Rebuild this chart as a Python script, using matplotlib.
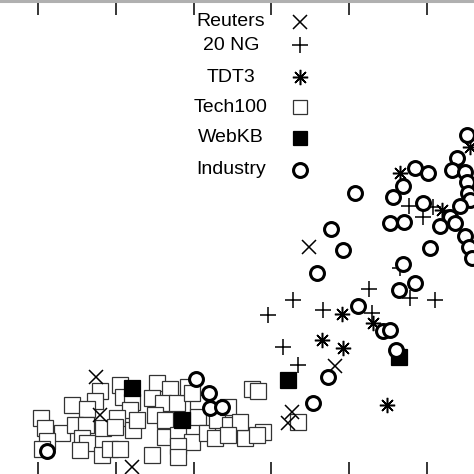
import numpy as np
import matplotlib.pyplot as plt

plt.rcParams['font.family'] = ['Liberation Sans', 'DejaVu Sans']

# ============================================================
# data (arbitrary units)
# ============================================================

reuters_x = [96, 100, 132, 309, 335, 292, 288]
reuters_y = [97, 59, 7, 227, 108, 62, 51]

ng20_x = [268, 293, 323, 283, 298, 369, 372, 410, 435, 409, 423, 433, 400]
ng20_y = [159, 174, 164, 127, 109, 185, 161, 176, 174, 268, 257, 267, 206]

tdt3_x = [400, 442, 470, 342, 373, 322, 343, 387]
tdt3_y = [301, 264, 327, 160, 151, 134, 126, 69]

tech100_x = [120, 100, 95, 72, 87, 123, 132, 130, 41, 45, 62, 75, 86, 103,
             117, 115, 133, 137, 47, 42, 82, 87, 80, 102, 110, 120, 152, 157,
             170, 152, 163, 177, 155, 165, 188, 198, 198, 192, 165, 178, 192,
             178, 178, 207, 217, 230, 245, 263, 257, 215, 228, 240, 252, 258,
             298, 228]
tech100_y = [89, 83, 73, 69, 65, 77, 72, 64, 56, 46, 41, 49, 49, 46,
             56, 47, 44, 54, 33, 25, 36, 31, 24, 19, 25, 25, 19, 91,
             85, 76, 71, 71, 59, 54, 87, 71, 57, 81, 37, 39, 32,
             28, 17, 41, 54, 49, 36, 42, 39, 36, 67, 52, 85, 83,
             52, 39]

webkb_x = [132, 182, 288, 399]
webkb_y = [86, 54, 94, 117]

industry_x = [47, 196, 209, 210, 222, 313, 328, 396, 383, 390, 358, 399, 415,
              403, 430, 317, 343, 331, 355, 390, 404, 393, 403, 415, 428, 423,
              467, 457, 452, 465, 467, 468, 470, 460, 450, 440, 455, 465, 469,
              472]
industry_y = [23, 95, 81, 66, 67, 71, 97, 124, 143, 144, 168, 184, 191,
              210, 226, 201, 224, 245, 281, 251, 252, 277, 288, 306, 301, 271,
              339, 316, 304, 302, 292, 281, 274, 268, 257, 248, 251, 238, 227,
              216]

xticks = [38, 116, 194, 271, 349, 427]

series = [
    ("Reuters", reuters_x, reuters_y,
     dict(marker="x", ms=10, mew=1.1, color="black", ls="none", zorder=3)),
    ("20 NG", ng20_x, ng20_y,
     dict(marker="+", ms=12, mew=1.1, color="black", ls="none", zorder=3)),
    ("TDT3", tdt3_x, tdt3_y,
     dict(marker=(8, 2, 0), ms=11, mew=1.1, color="black", ls="none", zorder=3)),
    ("Tech100", tech100_x, tech100_y,
     dict(marker="s", ms=11, mew=0.9, mfc="white", mec="#333333", ls="none", zorder=2)),
    ("WebKB", webkb_x, webkb_y,
     dict(marker="s", ms=11, mew=0.9, mfc="black", mec="black", ls="none", zorder=2.5)),
    ("Industry", industry_x, industry_y,
     dict(marker="o", ms=10, mew=2.2, mfc="white", mec="black", ls="none", zorder=4)),
]

# ============================================================
# figure
# ============================================================

fig = plt.figure(figsize=(4.74, 4.74), dpi=100)
ax = fig.add_axes([0.0, -2 / 474, 1.0, 475 / 474])

for name, xs, ys, style in series:
    ax.plot(xs, ys, **style)

ax.set_xlim(0, 474)
ax.set_ylim(-2, 473)

ax.set_xticks(xticks)
ax.set_yticks([])
ax.tick_params(axis="x", direction="in", top=True, bottom=True,
               length=10, width=1.1, labelbottom=False, labeltop=False)

for side in ["left", "right", "bottom"]:
    ax.spines[side].set_visible(False)
ax.spines["top"].set_color("#b0b0b0")
ax.spines["top"].set_linewidth(2.2)

# legend drawn by hand (gnuplot style, centred text + key)
legend_rows = [22, 45, 77, 107, 138, 170]
for (name, xs, ys, style), row in zip(series, legend_rows):
    ly = 474 - row
    ax.text(231, ly, name, ha="center", va="center", fontsize=14)
    key = dict(style)
    key["zorder"] = 5
    if key["marker"] == "s":
        key["ms"] = 9.5
    ax.plot([300], [ly], clip_on=False, **key)

fig.savefig("out.png", dpi=100)
